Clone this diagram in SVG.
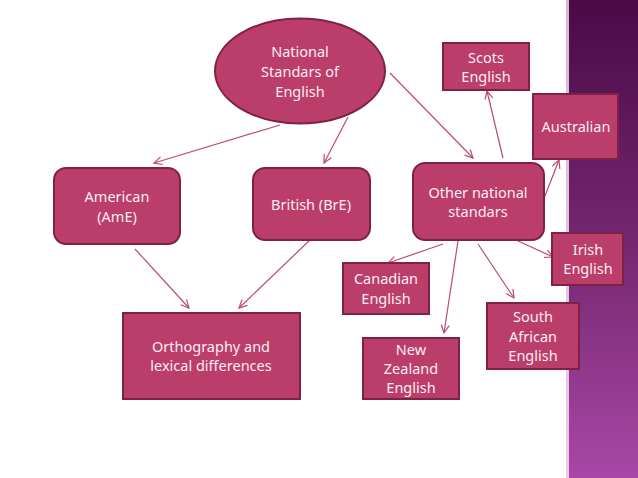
<svg xmlns="http://www.w3.org/2000/svg" width="638" height="478" viewBox="0 0 638 478">
<defs>
<linearGradient id="band" x1="0" y1="0" x2="0" y2="1">
<stop offset="0" stop-color="#4a0a46"/>
<stop offset="0.5" stop-color="#74276f"/>
<stop offset="1" stop-color="#a847a6"/>
</linearGradient>
<linearGradient id="edge" x1="0" y1="0" x2="0" y2="1">
<stop offset="0" stop-color="#d9b8d6"/>
<stop offset="1" stop-color="#efc8ec"/>
</linearGradient>
<marker id="arr" markerUnits="userSpaceOnUse" markerWidth="12" markerHeight="12" refX="9" refY="5" orient="auto">
<path d="M1,1 L9,5 L1,9" fill="none" stroke="#bc4a72" stroke-width="1.2"/>
</marker>
<style>
.n{fill:#bb3d69;stroke:#7e2146;stroke-width:2}
.t{font-family:"Noto Sans","DejaVu Sans",sans-serif;font-size:14.5px;fill:#fbeef3;text-anchor:middle}
.c{stroke:#bc4a72;stroke-width:1.2;fill:none;marker-end:url(#arr)}
</style>
</defs>
<rect x="0" y="0" width="638" height="478" fill="#ffffff"/>
<rect x="566" y="0" width="72" height="478" fill="url(#band)"/>
<rect x="566" y="0" width="3" height="478" fill="url(#edge)"/>

<g id="connectors">
<line class="c" x1="280" y1="125" x2="154" y2="163"/>
<line class="c" x1="348" y1="117" x2="324" y2="163"/>
<line class="c" x1="390" y1="73" x2="473" y2="158"/>
<line class="c" x1="503" y1="158" x2="487" y2="91"/>
<line class="c" x1="545" y1="196" x2="559" y2="160"/>
<line class="c" x1="516" y1="240" x2="553" y2="257"/>
<line class="c" x1="478" y1="244" x2="514" y2="298"/>
<line class="c" x1="458" y1="241" x2="444" y2="333"/>
<line class="c" x1="443" y1="244" x2="388" y2="263"/>
<line class="c" x1="135" y1="249" x2="189" y2="308"/>
<line class="c" x1="310" y1="240" x2="239" y2="308"/>
</g>

<g id="national">
<ellipse class="n" cx="300" cy="71" rx="85" ry="52.5"/>
<text class="t" x="300" y="57">National</text>
<text class="t" x="300" y="77">Standars of</text>
<text class="t" x="300" y="97">English</text>
</g>
<g id="american">
<rect class="n" x="54" y="168" width="126" height="76" rx="12"/>
<text class="t" x="117" y="202">American</text>
<text class="t" x="117" y="222">(AmE)</text>
</g>
<g id="british">
<rect class="n" x="253" y="168" width="117" height="72" rx="12"/>
<text class="t" x="311" y="210">British (BrE)</text>
</g>
<g id="orthography">
<rect class="n" x="123" y="313" width="177" height="86"/>
<text class="t" x="211" y="352">Orthography and</text>
<text class="t" x="211" y="371">lexical differences</text>
</g>
<g id="other">
<rect class="n" x="413" y="163" width="131" height="77" rx="12"/>
<text class="t" x="478" y="198">Other national</text>
<text class="t" x="478" y="217">standars</text>
</g>
<g id="scots">
<rect class="n" x="443" y="43" width="86" height="47"/>
<text class="t" x="486" y="63">Scots</text>
<text class="t" x="486" y="82">English</text>
</g>
<g id="australian">
<rect class="n" x="533" y="94" width="85" height="65"/>
<text class="t" x="576" y="132">Australian</text>
</g>
<g id="irish">
<rect class="n" x="552" y="233" width="71" height="52"/>
<text class="t" x="588" y="255">Irish</text>
<text class="t" x="588" y="274">English</text>
</g>
<g id="canadian">
<rect class="n" x="343" y="263" width="86" height="51"/>
<text class="t" x="386" y="284">Canadian</text>
<text class="t" x="386" y="304">English</text>
</g>
<g id="southafrican">
<rect class="n" x="487" y="303" width="92" height="66"/>
<text class="t" x="533" y="322">South</text>
<text class="t" x="533" y="342">African</text>
<text class="t" x="533" y="361">English</text>
</g>
<g id="newzealand">
<rect class="n" x="363" y="338" width="96" height="61"/>
<text class="t" x="411" y="355">New</text>
<text class="t" x="411" y="374">Zealand</text>
<text class="t" x="411" y="393">English</text>
</g>
</svg>
